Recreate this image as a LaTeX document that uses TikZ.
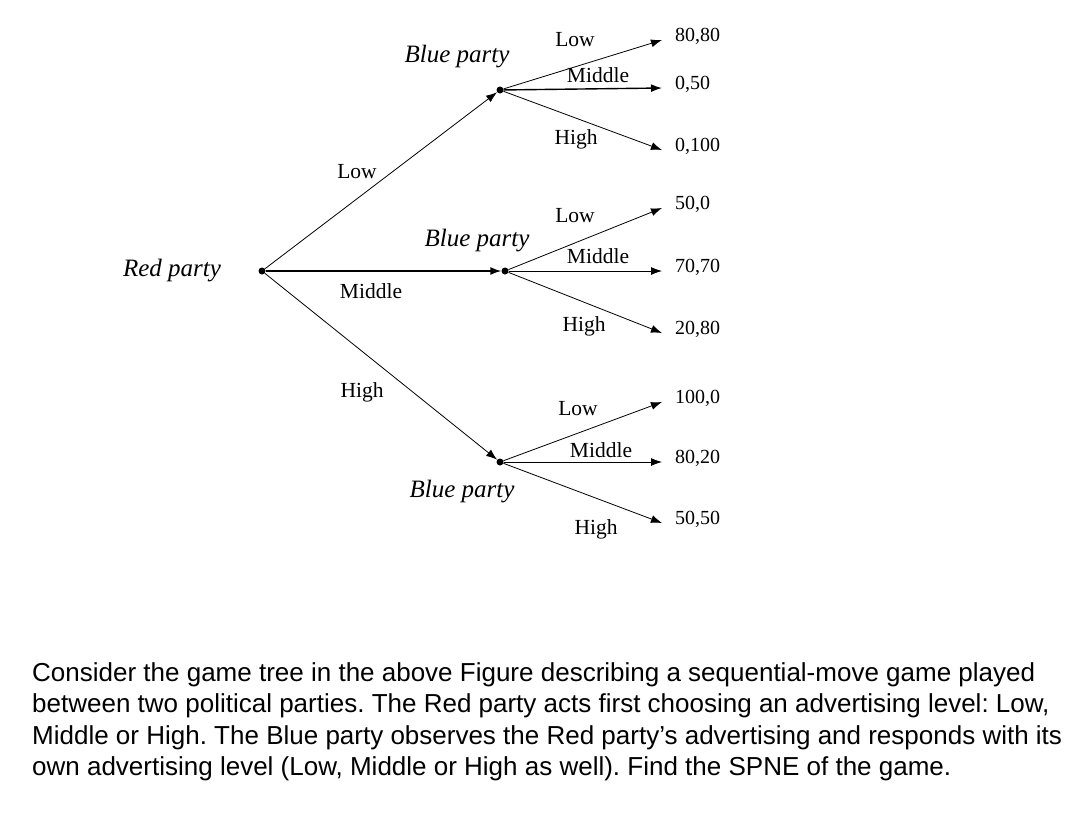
\documentclass[tikz,border=0pt]{standalone}
\usepackage{fontspec}
\setmainfont{Liberation Serif}
\newfontfamily\parafont{Liberation Sans}
\usetikzlibrary{arrows.meta}
\begin{document}
\frenchspacing
\begin{tikzpicture}[x=1pt,y=-1pt,
  br/.style={-{Latex[length=11pt,width=8pt]},line width=0.8pt},
  dot/.style={circle,fill,inner sep=0pt,minimum size=7pt},
  lab/.style={font=\fontsize{21.5}{21.5}\selectfont,inner sep=1pt},
  pl/.style={font=\itshape\fontsize{25}{25}\selectfont,inner sep=1pt},
  pay/.style={font=\fontsize{20}{20}\selectfont,anchor=west,inner sep=1pt}]
\useasboundingbox (0,0) rectangle (1092,825);
\node[dot] (r) at (262,271) {};
\node[dot] (b1) at (500,90) {};
\node[dot] (b2) at (505,271) {};
\node[dot] (b3) at (500,462) {};
\node[pl] (rl) at (172,271) {Red party};
\node[pl] (p1) at (457,57) {Blue party};
\node[pl] (p2) at (477,241) {Blue party};
\node[pl] (p3) at (462,492) {Blue party};
\draw[br] (r) -- (b1);
\draw[br,line width=1.4pt] (r) -- (b2);
\draw[br] (r) -- (b3);
\node[lab] at (357,172) {Low};
\node[lab] at (371,291) {Middle};
\node[lab] at (362,392) {High};
\foreach \b/\y/\p [count=\i] in {b1/40/{80,80},b1/88/{0,50},b1/150/{0,100},b2/208/{50,0},b2/271/{70,70},b2/333/{20,80},b3/402/{100,0},b3/462/{80,20},b3/523/{50,50}}{
  \coordinate (e\i) at (662,\y);
  \node[pay] (v\i) at (674,\y-4) {\p};
}
\draw[br] (b1) -- (e1); \draw[br,line width=1.4pt] (b1) -- (e2); \draw[br] (b1) -- (e3);
\draw[br] (b2) -- (e4); \draw[br] (b2) -- (e5); \draw[br] (b2) -- (e6);
\draw[br] (b3) -- (e7); \draw[br] (b3) -- (e8); \draw[br] (b3) -- (e9);
\node[lab] at (575,40) {Low};
\node[lab] at (598,75) {Middle};
\node[lab] at (576,139) {High};
\node[lab] at (575,216) {Low};
\node[lab] at (598,256) {Middle};
\node[lab] at (584,326) {High};
\node[lab] at (578,409) {Low};
\node[lab] at (601,450) {Middle};
\node[lab] at (596,529) {High};
\node[anchor=north west,inner sep=0pt,align=left,
  font=\parafont\fontsize{26}{31.5}\selectfont] (t) at (32,662)
{Consider the game tree in the above Figure describing a sequential-move game played\\
between two political parties. The Red party acts first choosing an advertising level: Low,\\
Middle or High. The Blue party observes the Red party’s advertising and responds with its\\
own advertising level (Low, Middle or High as well). Find the SPNE of the game.};
\end{tikzpicture}
\end{document}
